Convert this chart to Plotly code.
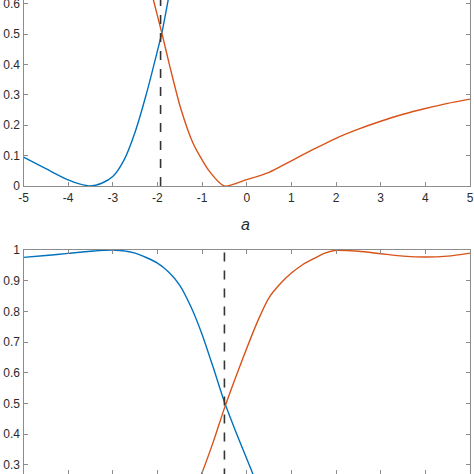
import plotly.graph_objects as go

# ---- data: top panel ----
top_blue_x = [-5, -4.5, -4, -3.75, -3.5, -3.25, -3, -2.75, -2.5, -2.25, -2.0, -1.9, -1.75]
top_blue_y = [0.095, 0.057, 0.02, 0.007, 0.0, 0.009, 0.031, 0.085, 0.178, 0.302, 0.445, 0.505, 0.62]
top_orange_x = [-2.15, -2.09, -1.9, -1.72, -1.49, -1.2, -0.86, -0.5, 0.0, 0.5, 1.0, 1.5, 2.0, 2.5, 3.0, 3.5, 4.0, 4.5, 5.0]
top_orange_y = [0.65, 0.612, 0.502, 0.392, 0.261, 0.14, 0.053, 0.0, 0.021, 0.045, 0.083, 0.121, 0.157, 0.187, 0.213, 0.236, 0.255, 0.272, 0.286]
top_dash_x = -1.93

# ---- data: bottom panel ----
bot_blue_x = [-5, -4.5, -4, -3.5, -3, -2.5, -2.0, -1.75, -1.5, -1.25, -1.0, -0.75, -0.5, -0.25, 0.0, 0.25]
bot_blue_y = [0.976, 0.982, 0.989, 0.996, 1.0, 0.99, 0.957, 0.928, 0.885, 0.815, 0.725, 0.617, 0.505, 0.41, 0.32, 0.23]
bot_orange_x = [-1.1, -1.0, -0.75, -0.5, -0.25, 0.0, 0.25, 0.5, 0.75, 1.0, 1.25, 1.5, 1.75, 2.0, 2.5, 3.0, 3.5, 4.0, 4.5, 5.0]
bot_orange_y = [0.24, 0.275, 0.375, 0.485, 0.585, 0.68, 0.77, 0.845, 0.89, 0.925, 0.952, 0.972, 0.99, 0.999, 0.996, 0.988, 0.98, 0.977, 0.98, 0.99]
bot_dash_x = -0.5

x_ticks = [-5, -4, -3, -2, -1, 0, 1, 2, 3, 4, 5]
top_y_ticks = [0, 0.1, 0.2, 0.3, 0.4, 0.5, 0.6]
bot_y_ticks = [0.3, 0.4, 0.5, 0.6, 0.7, 0.8, 0.9, 1]

BLUE = "#0072BD"
ORANGE = "#D95319"
AX = "#8c8c8c"
TXT = "#2b2b2b"
FONT = "Liberation Sans, Arial, sans-serif"

W = 474
def fx(px):
    return px / W
def fy(py):
    return 1 - py / W

fig = go.Figure()
fig.add_trace(go.Scatter(x=top_blue_x, y=top_blue_y, mode="lines", line=dict(color=BLUE, width=1.4, shape="spline", smoothing=0.8), xaxis="x", yaxis="y"))
fig.add_trace(go.Scatter(x=top_orange_x, y=top_orange_y, mode="lines", line=dict(color=ORANGE, width=1.4, shape="spline", smoothing=0.6), xaxis="x", yaxis="y"))
fig.add_trace(go.Scatter(x=[top_dash_x, top_dash_x], y=[0, 0.7], mode="lines", line=dict(color="#333333", width=1.6, dash="dash"), xaxis="x", yaxis="y"))

fig.add_trace(go.Scatter(x=bot_blue_x, y=bot_blue_y, mode="lines", line=dict(color=BLUE, width=1.4, shape="spline", smoothing=0.7), xaxis="x2", yaxis="y2"))
fig.add_trace(go.Scatter(x=bot_orange_x, y=bot_orange_y, mode="lines", line=dict(color=ORANGE, width=1.4, shape="spline", smoothing=0.7), xaxis="x2", yaxis="y2"))
fig.add_trace(go.Scatter(x=[bot_dash_x, bot_dash_x], y=[0.2, 1.0], mode="lines", line=dict(color="#333333", width=1.6, dash="dash"), xaxis="x2", yaxis="y2"))

axcommon = dict(showgrid=False, zeroline=False, showline=True, linecolor=AX, linewidth=1.2,
                ticks="inside", ticklen=4, tickcolor=AX, tickwidth=1,
                tickfont=dict(family=FONT, size=12, color=TXT),
                ticklabeloverflow="allow", automargin=False)

fig.update_layout(
    width=474, height=474,
    margin=dict(l=0, r=0, t=0, b=0),
    paper_bgcolor="white", plot_bgcolor="white",
    showlegend=False,
    xaxis=dict(domain=[fx(23.5), fx(470)], range=[-5, 5], tickvals=x_ticks, ticktext=[str(v) for v in x_ticks],
               anchor="y", mirror=False, **axcommon),
    yaxis=dict(domain=[fy(186), 1.0], range=[0, 0.612], tickvals=top_y_ticks, ticktext=["0", "0.1", "0.2", "0.3", "0.4", "0.5", "0.6"],
               anchor="x", mirror="ticks", **axcommon),
    xaxis2=dict(domain=[fx(23.5), fx(470)], range=[-5, 5], tickvals=x_ticks, showticklabels=False,
                anchor="y2", mirror="ticks", **axcommon),
    yaxis2=dict(domain=[0.0, fy(250)], range=[0.2704, 1.0], tickvals=bot_y_ticks, ticktext=["0.3", "0.4", "0.5", "0.6", "0.7", "0.8", "0.9", "1"],
                anchor="x2", mirror="ticks", **axcommon),
    annotations=[dict(text="<i>a</i>", x=fx(245), y=fy(224), xref="paper", yref="paper", showarrow=False,
                      font=dict(family=FONT, size=16, color=TXT))],
)

fig.write_html("out.html", config={"displayModeBar": False},
               post_script="document.body.style.margin='0';document.body.style.overflow='hidden';")
